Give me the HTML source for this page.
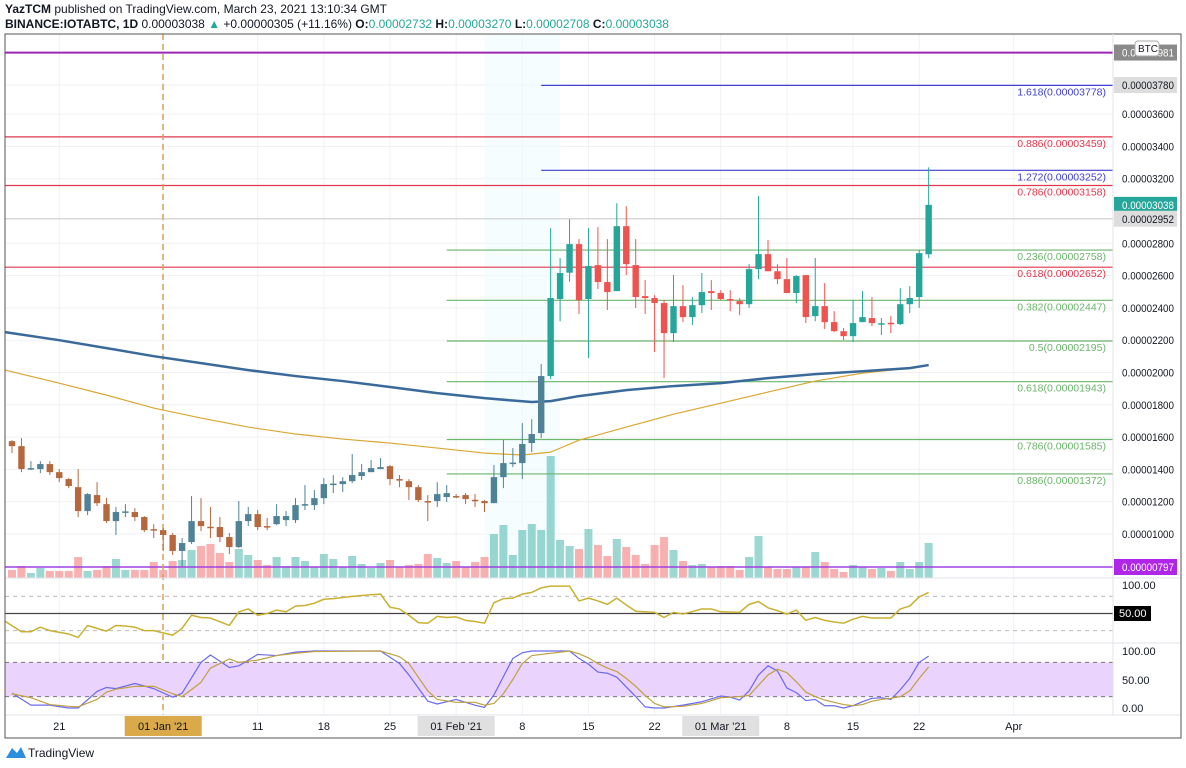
<!DOCTYPE html>
<html><head><meta charset="utf-8">
<style>
body{margin:0;background:#fff;font-family:"Liberation Sans",sans-serif;}
#wrap{position:relative;width:1186px;height:768px;overflow:hidden;background:#fff}
.hdr{position:absolute;left:5px;font-size:12px;color:#131722;white-space:nowrap}
svg text{font-family:"Liberation Sans",sans-serif}
</style></head>
<body>
<div id="wrap">
<div class="hdr" style="top:2px"><b>YazTCM</b> published on TradingView.com, March 23, 2021 13:10:34 GMT</div>
<div class="hdr" style="top:17px"><b>BINANCE:IOTABTC, 1D</b> 0.00003038 <span style="color:#26a69a">▲</span> +0.00000305 (+11.16%) <b>O:</b><span style="color:#26a69a">0.00002732</span> <b>H:</b><span style="color:#26a69a">0.00003270</span> <b>L:</b><span style="color:#26a69a">0.00002708</span> <b>C:</b><span style="color:#26a69a">0.00003038</span></div>
<svg id="chart" width="1186" height="768" style="position:absolute;left:0;top:0"></svg>
</div>
<script>
// ---- data (prices in 1e-8 BTC) ----
const opens=[1575,1544,1402,1402,1433,1383,1340,1290,1142,1241,1185,1080,1136,1136,1105,1030,1024,994,895,950,1080,1045,1043,981,919,1080,1123,1049,1061,1086,1086,1183,1179,1222,1309,1309,1327,1359,1383,1402,1420,1340,1327,1290,1204,1204,1229,1235,1241,1212,1204,1191,1352,1439,1439,1563,1625,1978,2455,2618,2795,2455,2665,2560,2504,2906,2665,2473,2461,2430,2244,2411,2343,2417,2504,2492,2455,2442,2423,2640,2733,2627,2578,2492,2603,2349,2411,2312,2256,2225,2312,2337,2300,2308,2300,2423,2467,2732];
const highs=[1581,1594,1451,1451,1451,1402,1346,1402,1253,1321,1222,1167,1185,1160,1111,1061,1036,1006,975,1235,1222,1167,1105,1006,1204,1167,1148,1099,1185,1142,1222,1303,1272,1346,1365,1352,1495,1433,1458,1470,1427,1365,1340,1303,1241,1321,1303,1247,1253,1247,1210,1427,1582,1532,1687,1711,2052,2894,2709,2949,2826,2894,2900,2826,3048,3030,2826,2572,2479,2448,2603,2541,2467,2616,2572,2510,2510,2461,2671,3092,2820,2671,2709,2603,2603,2709,2554,2380,2275,2448,2504,2467,2337,2349,2522,2535,2758,3270];
const lows=[1501,1383,1396,1377,1365,1321,1284,1105,1117,1173,1068,994,1105,1080,1012,975,895,870,802,938,1018,975,950,876,913,1049,1024,1024,1055,1049,1068,1148,1148,1185,1253,1260,1315,1334,1383,1402,1303,1290,1210,1198,1080,1167,1198,1222,1185,1167,1136,1191,1284,1414,1340,1507,1594,1959,2317,2562,2362,2089,2517,2387,2504,2603,2400,2362,2127,1965,2188,2312,2294,2368,2387,2448,2380,2355,2400,2578,2627,2547,2492,2430,2306,2318,2269,2250,2201,2188,2312,2287,2232,2244,2294,2368,2400,2708];
const closes=[1544,1402,1408,1433,1383,1346,1297,1142,1247,1191,1080,1136,1140,1105,1024,1027,994,895,944,1080,1049,1043,981,919,1080,1123,1043,1046,1111,1111,1179,1185,1222,1309,1312,1327,1365,1383,1408,1414,1340,1338,1290,1210,1202,1247,1253,1233,1216,1208,1191,1352,1439,1442,1557,1619,1978,2461,2616,2795,2448,2659,2560,2498,2906,2671,2467,2461,2430,2244,2411,2343,2417,2498,2492,2455,2452,2423,2640,2733,2627,2578,2492,2597,2343,2411,2312,2256,2225,2306,2343,2306,2305,2304,2423,2461,2739,3038];
const volumes=[8,12,5,10,7,7,7,21,7,8,12,19,8,8,8,16,8,17,18,28,32,34,25,16,29,23,18,13,21,12,21,17,11,24,19,11,22,14,10,15,18,11,13,14,24,20,15,17,11,16,21,44,53,23,48,54,48,122,38,32,29,49,33,22,39,31,23,14,33,41,28,17,13,14,11,12,12,8,21,42,11,9,9,11,11,26,16,9,6,13,11,9,10,7,16,9,16,35];
const ma200Idx=[-1.3,5,10,15,20,25,30,35,40,45,50,55,57,60,65,70,75,80,85,90,95,97];
const ma200Val=[2250,2200,2151,2101,2058,2015,1978,1947,1910,1872,1841,1817,1823,1854,1891,1916,1934,1965,1990,2008,2027,2046];
const ma100Idx=[-1.3,5,10,15,20,25,30,35,40,45,50,54,57,60,65,70,75,80,85,90,95,97];
const ma100Val=[2015,1934,1860,1780,1718,1662,1619,1588,1563,1532,1501,1489,1507,1581,1662,1742,1810,1879,1947,1996,2027,2046];
const rsiIdx=[-0.7,1,2,3,4,6,7,8,10,11,12,13,14,15,16,17,18,19,20,21,23,24,25,26,27,28,29,30,31,32,33,34,36,38,39,40,41,42,43,44,45,46,47,48,49,50,51,52,53,54,55,56,57,59,60,61,62,63,64,65,66,68,69,70,71,73,74,75,77,78,79,80,81,82,83,84,85,86,87,88,89,90,91,93,94,95,96,97];
const rsiVal=[36,18,18,26,20,14,8,29,19,29,28,26,20,20,16,12,24,47,43,42,29,53,58,47,50,56,53,63,64,68,75,76,80,83,84,61,58,47,34,33,45,43,44,38,36,33,69,76,77,84,87,95,98,98,72,77,72,66,77,65,54,52,43,52,49,58,58,53,52,66,71,60,55,49,56,38,43,38,35,33,40,45,42,42,58,63,79,87];
const stochIdx=[0,2,4,6,7,9,10,11,13,15,17,18,20,21,23,24,26,28,30,32,39,41,42,44,45,47,49,50,51,52,53,54,55,59,60,61,62,63,64,65,66,67,68,69,71,73,75,76,77,78,79,80,81,82,83,84,85,86,87,88,89,90,91,92,93,94,95,96,97];
const stochK=[26,5,5,0,0,29,36,34,43,34,19,26,80,93,71,74,94,92,98,100,100,78,58,12,7,15,5,1,23,55,87,97,100,100,87,77,63,61,54,37,20,2,0,0,5,11,21,19,14,30,58,74,65,35,27,13,15,4,4,0,4,11,17,18,15,32,52,80,91];
const stochD=[25,18,6,3,2,15,28,33,38,38,25,20,45,70,86,80,84,92,96,99,100,90,78,30,15,10,10,5,8,25,50,78,92,100,95,88,78,70,64,52,38,22,8,2,3,8,18,19,20,22,40,58,68,62,46,28,20,14,10,6,4,6,12,15,17,20,30,52,72];
const priceTicks=[3600,3400,3200,2800,2600,2400,2200,2000,1800,1600,1400,1200,1000];
const dateIdx=[5,16,26,33,40,47,54,61,68,75,82,89,96,106];
const dateLbl=["21","01 Jan '21","11","18","25","01 Feb '21","8","15","22","01 Mar '21","8","15","22","Apr"];
const fibLevels=[3778,3459,3252,3158,2758,2652,2447,2195,1943,1585,1372];
const fibLabels=["1.618","0.886","1.272","0.786","0.236","0.618","0.382","0.5","0.618","0.786","0.886"];
const fibColors=["#3f3fd0","#e0384c","#3f3fd0","#e0384c","#6cb56c","#e0384c","#6cb56c","#6cb56c","#6cb56c","#6cb56c","#6cb56c"];
const fibStartIdx=[56,-2,56,-2,46,-2,46,46,46,46,46];

// ---- scales ----
const PL=5,PR=1113;
const xS=i=>12+i*9.45;
const yP=p=>534-(p-1000)*0.1615;
const yV=v=>578-v;
const yR=r=>613.5-(r-50)*0.57;
const yK=s=>708-s*0.57;
const svg=document.getElementById('chart');
const NS='http://www.w3.org/2000/svg';
function mk(tag,attrs,parent){const e=document.createElementNS(NS,tag);for(const k in attrs)e.setAttribute(k,attrs[k]);(parent||svg).appendChild(e);return e;}
function txt(s,attrs,parent){const e=mk('text',attrs,parent);e.textContent=s;return e;}
const AX={'font-size':11,textLength:52,lengthAdjust:'spacingAndGlyphs'};
function axTxt(s,x,y,fill,parent){const a=Object.assign({x:x,y:y,fill:fill},AX);return txt(s,a,parent);}

// frame & grid
const grid=mk('g',{});


priceTicks.concat([3780]).forEach(p=>mk('line',{x1:PL,x2:PR,y1:yP(p),y2:yP(p),stroke:'#f0f1f4'},grid));
dateIdx.forEach(i=>mk('line',{x1:xS(i),x2:xS(i),y1:34,y2:715,stroke:'#f0f1f4'},grid));
mk('rect',{x:xS(50),y:34,width:xS(58)-xS(50),height:544,fill:'#effcfd',opacity:0.6});

// volume bars
const vg=mk('g',{});


volumes.forEach((v,i)=>{const up=closes[i]>=opens[i];
 const r=mk('rect',{x:xS(i)-4,y:yV(v),width:8,height:v,fill:up?'rgba(38,166,154,0.45)':'rgba(239,83,80,0.45)'},vg);
 
 });

// horizontal lines
mk('line',{x1:PL,x2:PR,y1:yP(3981),y2:yP(3981),stroke:'#9c27b0','stroke-width':2});
mk('line',{x1:PL,x2:PR,y1:yP(2952),y2:yP(2952),stroke:'#d8d8d8','stroke-width':1.5});
mk('line',{x1:PL,x2:PR,y1:567,y2:567,stroke:'#a040e0','stroke-width':1.5});
fibLevels.forEach((p,k)=>{const y=yP(p);
 const l=mk('line',{x1:Math.max(PL,xS(fibStartIdx[k])),x2:PR,y1:y,y2:y,stroke:fibColors[k],'stroke-width':1.2});
 
 
 const t=txt(fibLabels[k]+'(0.0000'+p+')',{x:1106,y:y+10,'font-size':10.5,fill:fibColors[k],'text-anchor':'end'});
 
 });

// vertical dashed line (01 Jan)
mk('line',{x1:163,x2:163,y1:34,y2:715,stroke:'#d9a05a','stroke-width':1.5,'stroke-dasharray':'6,4'});

// moving averages
function poly(idx,val,yf,color,w,name){const pts=idx.map((i,k)=>Math.max(PL,xS(i))+','+yf(val[k])).join(' ');
 const p=mk('polyline',{points:pts,fill:'none',stroke:color,'stroke-width':w,'stroke-linejoin':'round'});
 
 return p;}
poly(ma100Idx,ma100Val,yP,'#d9a832',1.2,'ma100-line');
poly(ma200Idx,ma200Val,yP,'#3a6a9a',2.5,'ma200-line');

// candles
const cg=mk('g',{});


opens.forEach((o,i)=>{const c=closes[i],up=c>=o,early=i<57;
 const col=up?(early?'#4f8296':'#26a69a'):(early?'#b5683e':'#ef5350');
 const x=xS(i);
 mk('line',{x1:x,x2:x,y1:yP(highs[i]),y2:yP(lows[i]),stroke:col,'stroke-width':1},cg);
 const top=yP(Math.max(o,c)),h=Math.max(1.5,Math.abs(yP(o)-yP(c)));
 const r=mk('rect',{x:x-3.2,y:top,width:6.4,height:h,fill:col},cg);
 
 });

// pane separators
[578,643,715].forEach(y=>mk('line',{x1:PL,x2:1181,y1:y,y2:y,stroke:'#e0e3eb'}));
// RSI pane
mk('line',{x1:PL,x2:PR,y1:yR(80),y2:yR(80),stroke:'#bbb','stroke-dasharray':'4,4'});
mk('line',{x1:PL,x2:PR,y1:yR(20),y2:yR(20),stroke:'#bbb','stroke-dasharray':'4,4'});
mk('line',{x1:PL,x2:PR,y1:yR(50),y2:yR(50),stroke:'#444','stroke-width':1.2});
poly(rsiIdx,rsiVal,yR,'#c9b030',1.5,'rsi-line');
// Stoch pane
mk('rect',{x:PL,y:yK(80),width:PR-PL,height:yK(20)-yK(80),fill:'#ead3fc'});
mk('line',{x1:PL,x2:PR,y1:yK(80),y2:yK(80),stroke:'#777','stroke-dasharray':'4,4'});
mk('line',{x1:PL,x2:PR,y1:yK(20),y2:yK(20),stroke:'#777','stroke-dasharray':'4,4'});
poly(stochIdx,stochK,yK,'#6a6af0',1.2,'stoch-k-line');
poly(stochIdx,stochD,yK,'#c0a040',1.2,'stoch-d-line');

// right axis labels
const ax=mk('g',{});


priceTicks.forEach(p=>{axTxt('0.0000'+(p<1000?'0':'')+p,1122,yP(p)+4,'#131722',ax);});
function tag(y,label,bg,fg,name){const g=mk('g',{},ax);
 
 
 mk('rect',{x:1114,y:y-8,width:63,height:16,fill:bg},g);axTxt(label,1122,y+4,fg,g);}
tag(yP(3981),'0.00003981','#8a8a8a','#fff','last-level-tag');
tag(yP(3780),'0.00003780','#ddd','#131722','fib-tag');
tag(yP(closes[97]),'0.0000'+closes[97],'#26a69a','#fff','last-price-tag');
tag(yP(2952),'0.00002952','#ddd','#131722','prev-close-tag');
tag(567,'0.00000797','#b026e8','#fff','volume-ma-tag');
const bt=mk('g',{});


mk('rect',{x:1135,y:41,width:24,height:15,rx:3,fill:'#fff',stroke:'#aaa'},bt);
txt('BTC',{x:1138,y:52,'font-size':10,fill:'#131722'},bt);
[[585,'100.00'],[651,'100.00'],[680,'50.00'],[708,'0.00']].forEach(a=>txt(a[1],{x:1122,y:a[0]+4,'font-size':11,fill:'#131722'},ax));
mk('rect',{x:1114,y:606,width:37,height:15,fill:'#000'},ax);
txt('50.00',{x:1119,y:617,'font-size':11,fill:'#fff'},ax);

// time axis
const ta=mk('g',{});


dateIdx.forEach((i,k)=>{const x=xS(i),s=dateLbl[k],w=s.length*6.3+14;
 if(s==="01 Jan '21")mk('rect',{x:x-w/2,y:716,width:w,height:20,fill:'#d9a94a'},ta);
 else if(s.length>4)mk('rect',{x:x-w/2,y:716,width:w,height:20,fill:'#e0e0e0'},ta);
 txt(s,{x:x,y:730,'font-size':11,fill:'#131722','text-anchor':'middle'},ta);});
// frame
mk('rect',{x:PL,y:34,width:1176,height:704,fill:'none',stroke:'#555','stroke-width':1});
mk('line',{x1:PR,x2:PR,y1:34,y2:715,stroke:'#e0e3eb'});
// logo
const lg=mk('g',{});


mk('path',{d:'M6 758 L12 748 L17 753 L21 747 L26 758 Z',fill:'#2e8ee0'},lg);
txt('TradingView',{x:28,y:757,'font-size':12,fill:'#131722'},lg);
</script>
</body></html>
